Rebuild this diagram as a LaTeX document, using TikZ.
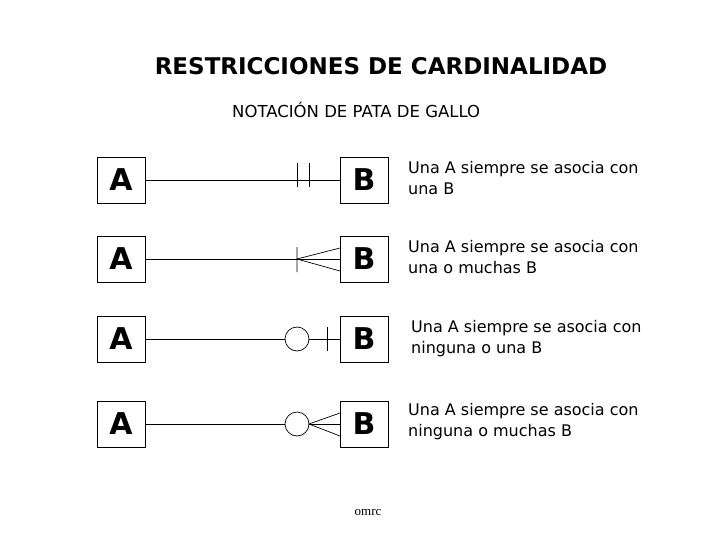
\documentclass[tikz,border=0pt]{standalone}
\usepackage{fontspec}
\setmainfont{DejaVu Sans}
\newfontfamily\serifomrc{Liberation Serif}
\begin{document}
\begin{tikzpicture}[x=1pt,y=-1pt,
  box/.style={draw,line width=0.8pt,minimum width=48pt,minimum height=46pt,inner sep=0pt,font=\fontsize{30}{30}\selectfont\bfseries},
  ln/.style={line width=0.7pt},
  desc/.style={anchor=north west,align=left,inner sep=0pt,font=\fontsize{16}{21}\selectfont}]
\useasboundingbox (0,0) rectangle (728,546);
\node[anchor=base,inner sep=0pt,font=\fontsize{23}{23}\selectfont\bfseries] (t) at (381,74) {RESTRICCIONES DE CARDINALIDAD};
\node[anchor=base west,inner sep=0pt,font=\fontsize{16.5}{16}\selectfont] (s) at (232,117) {NOTACIÓN DE PATA DE GALLO};
% row 1
\node[box] (a1) at (121,180) {A};
\node[box] (b1) at (364,180) {B};
\draw[ln] (a1) -- (b1);
\coordinate (p1a) at (297,163); \coordinate (p1b) at (297,187);
\coordinate (p1c) at (309,163); \coordinate (p1d) at (309,187);
\draw[ln] (p1a) -- (p1b) (p1c) -- (p1d);
\node[desc] (d1) at (408,161) {Una A siempre se asocia con\\una B};
% row 2
\node[box] (a2) at (121,259) {A};
\node[box] (b2) at (364,259) {B};
\draw[ln] (a2) -- (b2);
\coordinate (p2a) at (297,247); \coordinate (p2b) at (297,272);
\coordinate (p2c) at (297,259); \coordinate (p2u) at (340,248); \coordinate (p2l) at (340,271);
\draw[ln] (p2a) -- (p2b) (p2u) -- (p2c) -- (p2l);
\node[desc] (d2) at (408,240) {Una A siempre se asocia con\\una o muchas B};
% row 3
\node[box] (a3) at (121,339) {A};
\node[box] (b3) at (364,339) {B};
\node[draw,circle,line width=0.7pt,minimum size=24pt,inner sep=0pt,fill=white] (c3) at (297,339) {};
\draw[ln] (a3) -- (c3) (c3) -- (b3);
\coordinate (p3a) at (327,327); \coordinate (p3b) at (327,351);
\draw[ln] (p3a) -- (p3b);
\node[desc] (d3) at (411,320) {Una A siempre se asocia con\\ninguna o una B};
% row 4
\node[box] (a4) at (121,424) {A};
\node[box] (b4) at (364,424) {B};
\node[draw,circle,line width=0.7pt,minimum size=24pt,inner sep=0pt] (c4) at (297,424) {};
\draw[ln] (a4) -- (c4) (c4) -- (b4);
\coordinate (p4c) at (309,424); \coordinate (p4u) at (340,413); \coordinate (p4l) at (340,436);
\draw[ln] (p4u) -- (p4c) -- (p4l);
\node[desc] (d4) at (408,403) {Una A siempre se asocia con\\ninguna o muchas B};
\node[anchor=base,inner sep=0pt,font=\serifomrc\fontsize{13}{13}\selectfont] (o) at (368,515) {omrc};
\end{tikzpicture}
\end{document}
